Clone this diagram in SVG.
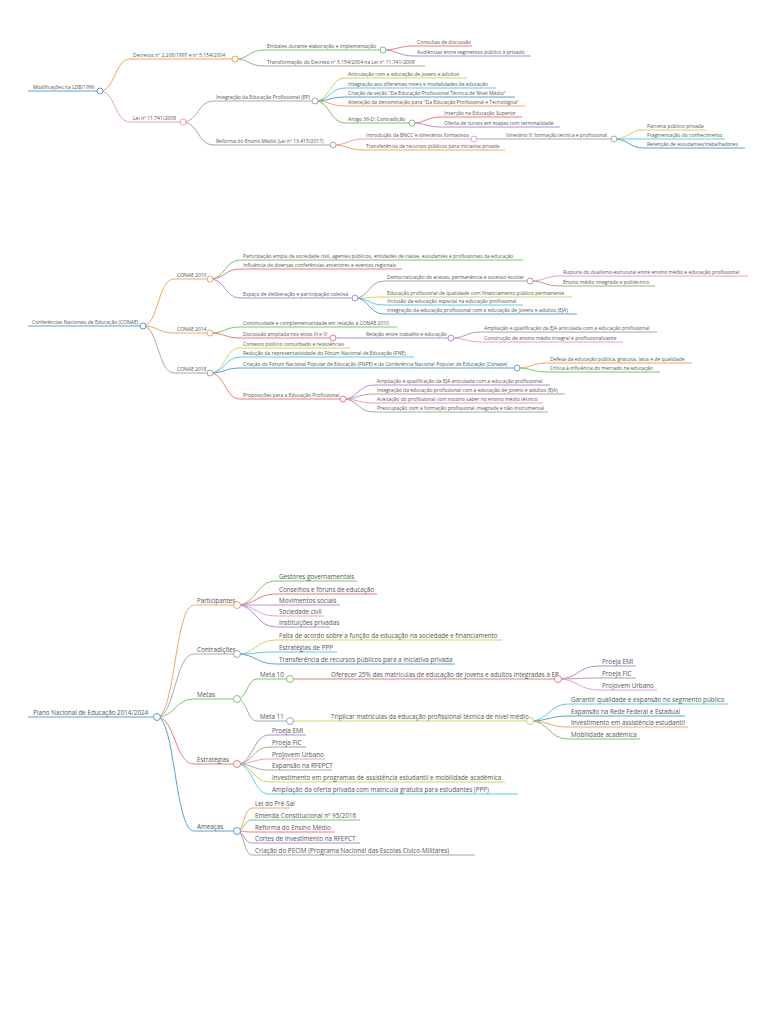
<svg xmlns="http://www.w3.org/2000/svg" width="768" height="1024" viewBox="0 0 768 1024">
<style>
path{fill:none;stroke-width:1}
text{font-family:"Open Sans","DejaVu Sans",sans-serif;font-size:5px;fill:#555}
.b text{font-size:6.3px}
circle{fill:#fff;stroke-width:1}
.o{stroke:#f5a55a}.p{stroke:#ef9ad6}.g{stroke:#7cc86a}.br{stroke:#b5a195}.gr{stroke:#aaa}.bl{stroke:#5aa0d8}.r{stroke:#ef7a7a}.pu{stroke:#b58ad8}.y{stroke:#d2d45a}.c{stroke:#5ad0e0}
</style>
<rect width="768" height="1024" fill="#fff"/>
<g id="connectors">
<path class="bl" d="M28 91H100"/>
<path class="o" d="M100 91C115 91 115 59 130 59H235"/>
<path class="p" d="M100 91C115 91 115 122 130 122H183"/>
<path class="g" d="M235 59C249 59 249 50 264 50H383"/>
<path class="br" d="M235 59C249 59 249 66 264 66H425"/>
<path class="r" d="M383 50C398 50 398 46 414 46H472"/>
<path class="pu" d="M383 50C398 50 398 56 414 56H531"/>
<path class="gr" d="M183 122C198 122 198 101 213 101H315"/>
<path class="br" d="M183 122C198 122 198 145 213 145H333"/>
<path class="y" d="M315 101C330 101 330 78 345 78H467"/>
<path class="c" d="M315 101C330 101 330 88 345 88H496"/>
<path class="bl" d="M315 101C330 101 330 97 345 97H515"/>
<path class="o" d="M315 101C330 101 330 106 345 106H525"/>
<path class="g" d="M315 101C330 101 330 123 345 123H412"/>
<path class="r" d="M412 123C426 123 426 117 441 117H522"/>
<path class="pu" d="M412 123C426 123 426 127 441 127H560"/>
<path class="p" d="M333 145C348 145 348 139 363 139H474"/>
<path class="o" d="M333 145C348 145 348 150 363 150H505"/>
<path class="gr" d="M474 139H614"/>
<path class="y" d="M614 139C629 139 629 130 644 130H707"/>
<path class="c" d="M614 139C629 139 629 139 644 139H725"/>
<path class="bl" d="M614 139C629 139 629 148 644 148H745"/>

<path class="bl" d="M28 326H143"/>
<path class="o" d="M143 326C158 326 158 279 174 279H210"/>
<path class="o" d="M143 326C158 326 158 333 174 333H210"/>
<path class="gr" d="M143 326C158 326 158 373 174 373H210"/>
<path class="g" d="M210 279C225 279 225 260 240 260H523"/>
<path class="r" d="M210 279C225 279 225 269 240 269H402"/>
<path class="pu" d="M210 279C225 279 225 298 240 298H355"/>
<path class="br" d="M355 298C369 298 369 281 384 281H530"/>
<path class="y" d="M355 298C369 298 369 297 384 297H572"/>
<path class="c" d="M355 298C369 298 369 305 384 305H523"/>
<path class="bl" d="M355 298C369 298 369 314 384 314H577"/>
<path class="p" d="M530 281C545 281 545 276 560 276H748"/>
<path class="br" d="M530 281C545 281 545 286 560 286H655"/>
<path class="g" d="M210 333C225 333 225 327 240 327H397"/>
<path class="r" d="M210 333C225 333 225 338 240 338H333"/>
<path class="pu" d="M333 338H451"/>
<path class="br" d="M451 338C466 338 466 332 481 332H657"/>
<path class="p" d="M451 338C466 338 466 342 481 342H623"/>
<path class="y" d="M210 373C225 373 225 348 240 348H350"/>
<path class="c" d="M210 373C225 373 225 357 240 357H414"/>
<path class="bl" d="M210 373C225 373 225 368 240 368H517"/>
<path class="r" d="M210 373C225 373 225 399 240 399H343"/>
<path class="o" d="M517 368C532 368 532 363 547 363H692"/>
<path class="g" d="M517 368C532 368 532 372 547 372H660"/>
<path class="pu" d="M343 399C358 399 358 385 374 385H550"/>
<path class="br" d="M343 399C358 399 358 394 374 394H565"/>
<path class="p" d="M343 399C358 399 358 403 374 403H543"/>
<path class="gr" d="M343 399C358 399 358 412 374 412H548"/>

<path class="bl" d="M28 717H157"/>
<path class="o" d="M157 717C175 717 175 605 194 605H237"/>
<path class="gr" d="M157 717C175 717 175 654 194 654H237"/>
<path class="g" d="M157 717C175 717 175 699 194 699H237"/>
<path class="r" d="M157 717C175 717 175 764 194 764H237"/>
<path class="bl" d="M157 717C175 717 175 831 194 831H237"/>
<path class="g" d="M237 605C256 605 256 581 276 581H357"/>
<path class="r" d="M237 605C256 605 256 594 276 594H377"/>
<path class="pu" d="M237 605C256 605 256 605 276 605H340"/>
<path class="p" d="M237 605C256 605 256 616 276 616H324"/>
<path class="pu" d="M237 605C256 605 256 627 276 627H330"/>
<path class="y" d="M237 654C256 654 256 640 276 640H502"/>
<path class="c" d="M237 654C256 654 256 652 276 652H337"/>
<path class="bl" d="M237 654C256 654 256 664 276 664H455"/>
<path class="g" d="M237 699C247 699 247 679 257 679H290"/>
<path class="gr" d="M237 699C247 699 247 721 257 721H290"/>
<path class="r" d="M290 679H558"/>
<path class="pu" d="M558 679C578 679 578 666 599 666H636"/>
<path class="br" d="M558 679C578 679 578 678 599 678H636"/>
<path class="p" d="M558 679C578 679 578 690 599 690H657"/>
<path class="y" d="M290 721H530"/>
<path class="c" d="M530 721C549 721 549 704 568 704H728"/>
<path class="bl" d="M530 721C549 721 549 716 568 716H685"/>
<path class="o" d="M530 721C549 721 549 727 568 727H688"/>
<path class="g" d="M530 721C549 721 549 739 568 739H640"/>
<path class="pu" d="M237 764C253 764 253 735 269 735H306"/>
<path class="br" d="M237 764C253 764 253 747 269 747H306"/>
<path class="p" d="M237 764C253 764 253 759 269 759H325"/>
<path class="gr" d="M237 764C253 764 253 770 269 770H332"/>
<path class="y" d="M237 764C253 764 253 782 269 782H505"/>
<path class="c" d="M237 764C253 764 253 794 269 794H518"/>
<path class="o" d="M237 831C244 831 244 808 252 808H290"/>
<path class="g" d="M237 831C244 831 244 820 252 820H360"/>
<path class="r" d="M237 831C244 831 244 832 252 832H335"/>
<path class="pu" d="M237 831C244 831 244 843 252 843H360"/>
<path class="br" d="M237 831C244 831 244 855 252 855H475"/>
</g>

<g id="map1">
<g id="n1"><text x="33" y="89">Modificações na LDB/1996</text><circle class="bl" cx="100" cy="91" r="3"/></g>
<g id="n2"><text x="133" y="57">Decretos nº 2.208/1997 e nº 5.154/2004</text><circle class="o" cx="235" cy="59" r="3"/></g>
<g id="n3"><text x="133" y="120">Lei nº 11.741/2008</text><circle class="p" cx="183" cy="122" r="3"/></g>
<g id="n4"><text x="267" y="48">Embates durante elaboração e implementação</text><circle class="g" cx="383" cy="50" r="3"/></g>
<g id="n5"><text x="267" y="64">Transformação do Decreto nº 5.154/2004 na Lei nº 11.741/2008</text></g>
<g id="n6"><text x="417" y="44">Consultas de discussão</text></g>
<g id="n7"><text x="417" y="54">Audiências entre segmentos público e privado</text></g>
<g id="n8"><text x="216" y="99">Integração da Educação Profissional (EP)</text><circle class="gr" cx="315" cy="101" r="3"/></g>
<g id="n9"><text x="216" y="143">Reforma do Ensino Médio (Lei nº 13.415/2017)</text><circle class="br" cx="333" cy="145" r="3"/></g>
<g id="n10"><text x="348" y="76">Articulação com a educação de jovens e adultos</text></g>
<g id="n11"><text x="348" y="86">Integração aos diferentes níveis e modalidades de educação</text></g>
<g id="n12"><text x="348" y="95">Criação da seção "Da Educação Profissional Técnica de Nível Médio"</text></g>
<g id="n13"><text x="348" y="104">Alteração da denominação para "Da Educação Profissional e Tecnológica"</text></g>
<g id="n14"><text x="348" y="121">Artigo 36-D: Contradição</text><circle class="g" cx="412" cy="123" r="3"/></g>
<g id="n15"><text x="444" y="115">Inserção na Educação Superior</text></g>
<g id="n16"><text x="444" y="125">Oferta de cursos em etapas com terminalidade</text></g>
<g id="n17"><text x="366" y="137">Introdução da BNCC e itinerários formativos</text><circle class="p" cx="474" cy="139" r="3"/></g>
<g id="n18"><text x="366" y="148">Transferência de recursos públicos para iniciativa privada</text></g>
<g id="n19"><text x="506" y="137">Itinerário V: formação técnica e profissional</text><circle class="gr" cx="614" cy="139" r="3"/></g>
<g id="n20"><text x="647" y="128">Parceria público-privada</text></g>
<g id="n21"><text x="647" y="137">Fragmentação do conhecimento</text></g>
<g id="n22"><text x="647" y="146">Retenção de estudantes/trabalhadores</text></g>
</g>

<g id="map2">
<g id="m1"><text x="32" y="324">Conferências Nacionais de Educação (CONAE)</text><circle class="bl" cx="143" cy="326" r="3"/></g>
<g id="m2"><text x="177" y="277">CONAE 2010</text><circle class="o" cx="210" cy="279" r="3"/></g>
<g id="m3"><text x="177" y="331">CONAE 2014</text><circle class="o" cx="210" cy="333" r="3"/></g>
<g id="m4"><text x="177" y="371">CONAE 2018</text><circle class="gr" cx="210" cy="373" r="3"/></g>
<g id="m5"><text x="243" y="258">Participação ampla da sociedade civil, agentes públicos, entidades de classe, estudantes e profissionais da educação</text></g>
<g id="m6"><text x="243" y="267">Influência de diversas conferências anteriores e eventos regionais</text></g>
<g id="m7"><text x="243" y="296">Espaço de deliberação e participação coletiva</text><circle class="pu" cx="355" cy="298" r="3"/></g>
<g id="m8"><text x="387" y="279">Democratização do acesso, permanência e sucesso escolar</text><circle class="br" cx="530" cy="281" r="3"/></g>
<g id="m9"><text x="387" y="295">Educação profissional de qualidade com financiamento público permanente</text></g>
<g id="m10"><text x="387" y="303">Inclusão da educação especial na educação profissional</text></g>
<g id="m11"><text x="387" y="312">Integração da educação profissional com a educação de jovens e adultos (EJA)</text></g>
<g id="m12"><text x="563" y="274">Ruptura do dualismo estrutural entre ensino médio e educação profissional</text></g>
<g id="m13"><text x="563" y="284">Ensino médio integrado e politécnico</text></g>
<g id="m14"><text x="243" y="325">Continuidade e complementaridade em relação à CONAE 2010</text></g>
<g id="m15"><text x="243" y="336">Discussão ampliada nos eixos III e IV</text><circle class="r" cx="333" cy="338" r="3"/></g>
<g id="m16"><text x="366" y="336">Relação entre trabalho e educação</text><circle class="pu" cx="451" cy="338" r="3"/></g>
<g id="m17"><text x="484" y="330">Ampliação e qualificação da EJA articulada com a educação profissional</text></g>
<g id="m18"><text x="484" y="340">Construção de ensino médio integral e profissionalizante</text></g>
<g id="m19"><text x="243" y="346">Contexto político conturbado e resistências</text></g>
<g id="m20"><text x="243" y="355">Redução da representatividade do Fórum Nacional de Educação (FNE)</text></g>
<g id="m21"><text x="243" y="366">Criação do Fórum Nacional Popular de Educação (FNPE) e da Conferência Nacional Popular de Educação (Conape)</text><circle class="bl" cx="517" cy="368" r="3"/></g>
<g id="m22"><text x="550" y="361">Defesa da educação pública, gratuita, laica e de qualidade</text></g>
<g id="m23"><text x="550" y="370">Crítica à influência do mercado na educação</text></g>
<g id="m24"><text x="243" y="397">Proposições para a Educação Profissional</text><circle class="r" cx="343" cy="399" r="3"/></g>
<g id="m25"><text x="377" y="383">Ampliação e qualificação da EJA articulada com a educação profissional</text></g>
<g id="m26"><text x="377" y="392">Integração da educação profissional com a educação de jovens e adultos (EJA)</text></g>
<g id="m27"><text x="377" y="401">Aceitação do profissional com notório saber no ensino médio técnico</text></g>
<g id="m28"><text x="377" y="410">Preocupação com a formação profissional integrada e não instrumental</text></g>
</g>

<g id="map3" class="b">
<g id="p1"><text x="33" y="715">Plano Nacional de Educação 2014/2024</text><circle class="bl" cx="157" cy="717" r="3.5"/></g>
<g id="p2"><text x="197" y="603">Participantes</text><circle class="o" cx="237" cy="605" r="3.5"/></g>
<g id="p3"><text x="197" y="652">Contradições</text><circle class="gr" cx="237" cy="654" r="3.5"/></g>
<g id="p4"><text x="197" y="697">Metas</text><circle class="g" cx="237" cy="699" r="3.5"/></g>
<g id="p5"><text x="197" y="762">Estratégias</text><circle class="r" cx="237" cy="764" r="3.5"/></g>
<g id="p6"><text x="197" y="829">Ameaças</text><circle class="bl" cx="237" cy="831" r="3.5"/></g>
<g id="p7"><text x="279" y="579">Gestores governamentais</text></g>
<g id="p8"><text x="279" y="592">Conselhos e fóruns de educação</text></g>
<g id="p9"><text x="279" y="603">Movimentos sociais</text></g>
<g id="p10"><text x="279" y="614">Sociedade civil</text></g>
<g id="p11"><text x="279" y="625">Instituições privadas</text></g>
<g id="p12"><text x="279" y="638">Falta de acordo sobre a função da educação na sociedade e financiamento</text></g>
<g id="p13"><text x="279" y="650">Estratégias de PPP</text></g>
<g id="p14"><text x="279" y="662">Transferência de recursos públicos para a iniciativa privada</text></g>
<g id="p15"><text x="260" y="677">Meta 10</text><circle class="g" cx="290" cy="679" r="3.5"/></g>
<g id="p16"><text x="260" y="719">Meta 11</text><circle class="gr" cx="290" cy="721" r="3.5"/></g>
<g id="p17"><text x="331" y="677">Oferecer 25% das matrículas de educação de jovens e adultos integradas à EP</text><circle class="r" cx="558" cy="679" r="3.5"/></g>
<g id="p18"><text x="602" y="664">Proeja EMI</text></g>
<g id="p19"><text x="602" y="676">Proeja FIC</text></g>
<g id="p20"><text x="602" y="688">Projovem Urbano</text></g>
<g id="p21"><text x="331" y="719">Triplicar matrículas da educação profissional técnica de nível médio</text><circle class="y" cx="530" cy="721" r="3.5"/></g>
<g id="p22"><text x="571" y="702">Garantir qualidade e expansão no segmento público</text></g>
<g id="p23"><text x="571" y="714">Expansão na Rede Federal e Estadual</text></g>
<g id="p24"><text x="571" y="725">Investimento em assistência estudantil</text></g>
<g id="p25"><text x="571" y="737">Mobilidade acadêmica</text></g>
<g id="p26"><text x="272" y="733">Proeja EMI</text></g>
<g id="p27"><text x="272" y="745">Proeja FIC</text></g>
<g id="p28"><text x="272" y="757">Projovem Urbano</text></g>
<g id="p29"><text x="272" y="768">Expansão na RFEPCT</text></g>
<g id="p30"><text x="272" y="780">Investimento em programas de assistência estudantil e mobilidade acadêmica</text></g>
<g id="p31"><text x="272" y="792">Ampliação da oferta privada com matrícula gratuita para estudantes (PPP)</text></g>
<g id="p32"><text x="255" y="806">Lei do Pré-Sal</text></g>
<g id="p33"><text x="255" y="818">Emenda Constitucional nº 95/2016</text></g>
<g id="p34"><text x="255" y="830">Reforma do Ensino Médio</text></g>
<g id="p35"><text x="255" y="841">Cortes de investimento na RFEPCT</text></g>
<g id="p36"><text x="255" y="853">Criação do PECIM (Programa Nacional das Escolas Cívico-Militares)</text></g>
</g>
</svg>
